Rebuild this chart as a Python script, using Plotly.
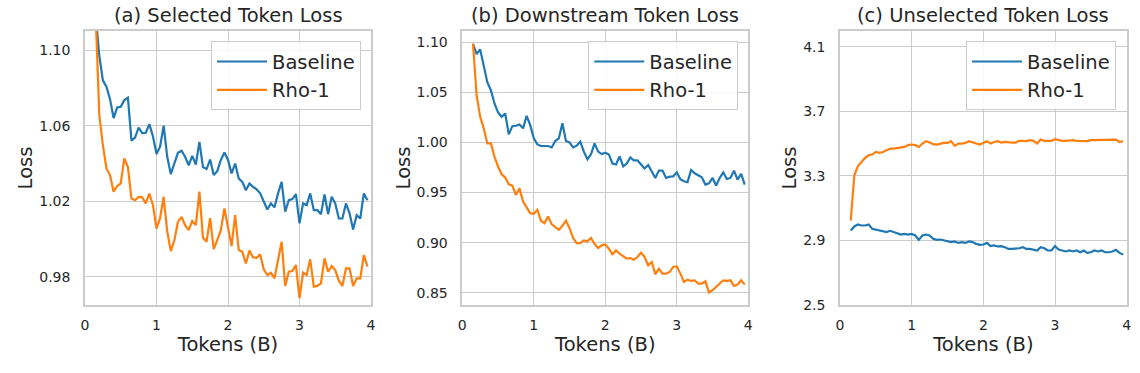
import plotly.graph_objects as go

tokens = [0.15, 0.2, 0.25, 0.3, 0.35, 0.4, 0.45, 0.5, 0.55, 0.6, 0.65, 0.7, 0.75, 0.8, 0.85, 0.9, 0.95,
          1.0, 1.05, 1.1, 1.15, 1.2, 1.25, 1.3, 1.35, 1.4, 1.45, 1.5, 1.55, 1.6, 1.65, 1.7, 1.75, 1.8, 1.85, 1.9, 1.95,
          2.0, 2.05, 2.1, 2.15, 2.2, 2.25, 2.3, 2.35, 2.4, 2.45, 2.5, 2.55, 2.6, 2.65, 2.7, 2.75, 2.8, 2.85, 2.9, 2.95,
          3.0, 3.05, 3.1, 3.15, 3.2, 3.25, 3.3, 3.35, 3.4, 3.45, 3.5, 3.55, 3.6, 3.65, 3.7, 3.75, 3.8, 3.85, 3.9, 3.95]

sel_baseline = [1.118, 1.097, 1.084, 1.0806, 1.074, 1.064, 1.0696, 1.070, 1.0735, 1.0748, 1.052, 1.0536, 1.059,
                1.056, 1.0562, 1.0608, 1.0544, 1.045, 1.0488, 1.060, 1.0435, 1.0343, 1.040, 1.0456, 1.0467, 1.0435,
                1.039, 1.044, 1.0394, 1.0514, 1.038, 1.037, 1.042, 1.0338, 1.0359, 1.0418, 1.0458, 1.0418, 1.0347,
                1.0399, 1.032, 1.0302, 1.0258, 1.0293, 1.0276, 1.0263, 1.0241, 1.0196, 1.0156, 1.0188, 1.0167,
                1.0241, 1.0302, 1.0144, 1.0205, 1.0211, 1.0237, 1.0082, 1.0188, 1.0179, 1.0241, 1.0152, 1.0152,
                1.0131, 1.0235, 1.0131, 1.0223, 1.0188, 1.0108, 1.0108, 1.0188, 1.0135, 1.005, 1.0126, 1.0108,
                1.0241, 1.0205]
sel_rho = [1.118, 1.0656, 1.0497, 1.0373, 1.0338, 1.025, 1.028, 1.0294, 1.0426, 1.038, 1.0214, 1.0205, 1.0223,
           1.022, 1.0188, 1.024, 1.018, 1.0055, 1.011, 1.0223, 1.004, 0.9935, 0.9993, 1.009, 1.0117, 1.0073,
           1.0046, 1.0094, 1.0073, 1.025, 1.0006, 0.9985, 1.011, 0.9946, 0.9993, 1.0046, 1.0161, 1.0055, 0.9962,
           1.0126, 0.9941, 0.9932, 0.987, 0.9938, 0.9902, 0.99, 0.9918, 0.9839, 0.9809, 0.9821, 0.9791, 0.9888,
           0.9985, 0.9751, 0.9826, 0.983, 0.9862, 0.9686, 0.9821, 0.9809, 0.9892, 0.9747, 0.9751, 0.9765,
           0.9897, 0.9826, 0.9856, 0.9835, 0.9779, 0.9751, 0.9844, 0.9844, 0.9751, 0.9791, 0.9791, 0.9915, 0.9853]

down_baseline = [1.0983, 1.088, 1.0927, 1.0768, 1.060, 1.052, 1.0388, 1.0298, 1.0255, 1.0288, 1.008, 1.0162,
                 1.0166, 1.0179, 1.014, 1.0265, 1.0172, 1.004, 0.998, 0.9964, 0.9964, 0.9964, 0.995, 1.0014,
                 1.004, 1.019, 1.0014, 1.000, 0.995, 0.9967, 1.0007, 0.9908, 0.9832, 0.9881, 0.999, 0.9908,
                 0.9884, 0.9897, 0.988, 0.979, 0.978, 0.986, 0.976, 0.979, 0.985, 0.982, 0.982, 0.9775, 0.974,
                 0.9775, 0.971, 0.9646, 0.9719, 0.9719, 0.9646, 0.9659, 0.9662, 0.9702, 0.9633, 0.9613, 0.9603,
                 0.9725, 0.9692, 0.9669, 0.9652, 0.958, 0.9593, 0.9646, 0.957, 0.9646, 0.9702, 0.9636, 0.9646,
                 0.9719, 0.9629, 0.9686, 0.958]
down_rho = [1.0983, 1.047, 1.0255, 1.014, 0.999, 0.999, 0.9858, 0.9759, 0.9683, 0.965, 0.9583, 0.957, 0.9477,
            0.9543, 0.9411, 0.9355, 0.9295, 0.9289, 0.9328, 0.922, 0.9196, 0.9262, 0.9186, 0.9156, 0.913, 0.917,
            0.922, 0.9146, 0.9047, 0.8997, 0.8997, 0.9024, 0.9014, 0.9047, 0.8987, 0.8948, 0.8974, 0.8984,
            0.8941, 0.8885, 0.8924, 0.8891, 0.8865, 0.8842, 0.8848, 0.8832, 0.8858, 0.8901, 0.8858, 0.8775,
            0.8808, 0.8686, 0.8742, 0.8693, 0.8693, 0.8709, 0.8759, 0.8765, 0.8693, 0.861, 0.8633, 0.862,
            0.8626, 0.8593, 0.8593, 0.8616, 0.8504, 0.8527, 0.856, 0.8593, 0.8626, 0.862, 0.8626, 0.857,
            0.8583, 0.8626, 0.8583]

unsel_baseline = [2.962, 2.987, 2.999, 2.993, 2.993, 2.999, 2.972, 2.968, 2.962, 2.956, 2.952, 2.960, 2.952,
                  2.941, 2.937, 2.941, 2.937, 2.941, 2.931, 2.904, 2.931, 2.937, 2.931, 2.910, 2.904, 2.906,
                  2.900, 2.896, 2.890, 2.894, 2.885, 2.890, 2.885, 2.894, 2.890, 2.879, 2.873, 2.875, 2.885,
                  2.865, 2.869, 2.863, 2.865, 2.858, 2.848, 2.848, 2.848, 2.852, 2.858, 2.848, 2.848, 2.844,
                  2.838, 2.858, 2.852, 2.838, 2.838, 2.865, 2.844, 2.838, 2.832, 2.838, 2.832, 2.838, 2.827,
                  2.838, 2.823, 2.827, 2.838, 2.832, 2.838, 2.827, 2.827, 2.832, 2.842, 2.823, 2.813]
unsel_rho = [3.024, 3.304, 3.362, 3.387, 3.412, 3.4285, 3.433, 3.449, 3.443, 3.449, 3.460, 3.470, 3.470,
             3.474, 3.474, 3.480, 3.491, 3.495, 3.491, 3.480, 3.501, 3.516, 3.507, 3.497, 3.495, 3.501, 3.505,
             3.505, 3.516, 3.487, 3.501, 3.501, 3.505, 3.516, 3.507, 3.501, 3.495, 3.507, 3.516, 3.501, 3.511,
             3.516, 3.507, 3.511, 3.507, 3.507, 3.507, 3.518, 3.518, 3.516, 3.522, 3.518, 3.501, 3.526, 3.518,
             3.518, 3.518, 3.528, 3.522, 3.518, 3.518, 3.522, 3.522, 3.518, 3.516, 3.516, 3.516, 3.522, 3.522,
             3.522, 3.522, 3.526, 3.522, 3.526, 3.526, 3.511, 3.516]

panel_titles = ["(a) Selected Token Loss", "(b) Downstream Token Loss", "(c) Unselected Token Loss"]
series_names = ["Baseline", "Rho-1"]
x_ticks = [0, 1, 2, 3, 4]
y_ticks_a = [0.98, 1.02, 1.06, 1.10]
y_ticks_b = [0.85, 0.90, 0.95, 1.00, 1.05, 1.10]
y_ticks_c = [2.5, 2.9, 3.3, 3.7, 4.1]

W, H = 1140, 373
BLUE, ORANGE = "#1f77b4", "#ff7f0e"
TXT = "#262626"
GRID = "#cccccc"
FONT = "DejaVu Sans"
BIG = 19.5

# pixel layout of panels
panels_px = [(85, 371), (462.3, 748.3), (840, 1126.7)]
top_px, bot_px = 31, 305
yranges = [[0.965, 1.1101], [0.838, 1.111], [2.5, 4.199]]
yticks = [y_ticks_a, y_ticks_b, y_ticks_c]
yfmts = [".2f", ".2f", ".1f"]
data = [(sel_baseline, sel_rho), (down_baseline, down_rho), (unsel_baseline, unsel_rho)]
legend_right_px = [361, 738.3, 1116]

fig = go.Figure()
layout = dict(
    width=W, height=H,
    margin=dict(l=0, r=0, t=0, b=0, autoexpand=False),
    paper_bgcolor="white", plot_bgcolor="white",
    font=dict(family=FONT, color=TXT),
    showlegend=True,
    annotations=[],
)

for i in range(3):
    sfx = "" if i == 0 else str(i + 1)
    xa, ya = "x" + sfx, "y" + sfx
    lg = "legend" + sfx
    b, r = data[i]
    fig.add_trace(go.Scatter(x=tokens, y=b, mode="lines", name=series_names[0],
                             line=dict(color=BLUE, width=2.2), xaxis=xa, yaxis=ya, legend=lg))
    fig.add_trace(go.Scatter(x=tokens, y=r, mode="lines", name=series_names[1],
                             line=dict(color=ORANGE, width=2.2), xaxis=xa, yaxis=ya, legend=lg))
    l, rr = panels_px[i]
    dom_x = [l / W, rr / W]
    dom_y = [1 - bot_px / H, 1 - top_px / H]
    common = dict(showgrid=True, gridcolor=GRID, gridwidth=1, zeroline=False,
                  showline=True, linecolor=GRID, linewidth=1.5, mirror=True, automargin=False,
                  ticks="", tickfont=dict(size=14, color=TXT, family=FONT))
    layout["xaxis" + sfx] = dict(common, domain=dom_x, anchor=ya, range=[0, 4],
                                 tickvals=x_ticks, ticktext=[str(t) for t in x_ticks],
                                 ticklabelstandoff=6,
                                 title=dict(text="Tokens (B)", font=dict(size=BIG, color=TXT, family=FONT),
                                            standoff=5))
    layout["yaxis" + sfx] = dict(common, domain=dom_y, anchor=xa, range=yranges[i],
                                 tickvals=yticks[i], tickformat=yfmts[i],
                                 ticklabelstandoff=10,
                                 title=dict(text="Loss", font=dict(size=BIG, color=TXT, family=FONT),
                                            standoff=1))
    layout[lg] = dict(x=legend_right_px[i] / W, xanchor="right", y=1 - 41.3 / H, yanchor="top",
                      bgcolor="rgba(255,255,255,0.85)", bordercolor=GRID, borderwidth=1,
                      font=dict(size=BIG, color=TXT, family=FONT), itemwidth=50,
                      tracegroupgap=0, traceorder="normal")
    layout["annotations"].append(dict(text=panel_titles[i], xref="paper", yref="paper",
                                      x=(l + rr) / 2 / W, y=1 - 15 / H, xanchor="center", yanchor="middle",
                                      showarrow=False, font=dict(size=BIG, color=TXT, family=FONT)))

fig.update_layout(**layout)
fig.write_html("out.html", config={"displayModeBar": False},
               post_script="document.body.style.margin='0px';document.body.style.padding='0px';")
